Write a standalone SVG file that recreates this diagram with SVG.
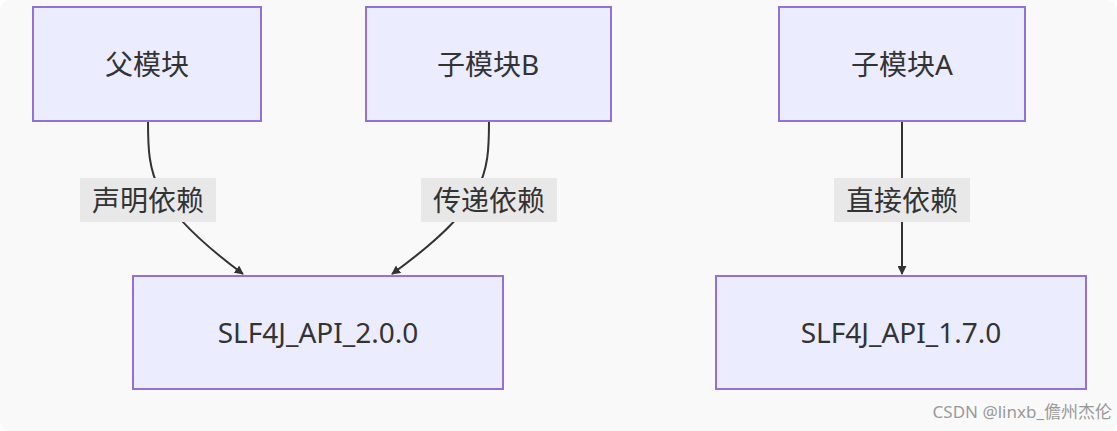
<svg xmlns="http://www.w3.org/2000/svg" width="1117" height="431" viewBox="0 0 1117 431">
<style>
.n rect{fill:#ececff;stroke:#9370db;stroke-width:2}
text{font-family:"Noto Sans","Noto Sans CJK SC",sans-serif;fill:#333;font-size:28px;text-anchor:middle;dominant-baseline:central}
.e path{fill:none;stroke:#333;stroke-width:2}
.l rect{fill:#e8e8e8}
</style>
<defs><marker id="a" viewBox="0 0 10 10" refX="9" refY="5" markerWidth="9" markerHeight="9" markerUnits="userSpaceOnUse" orient="auto"><path d="M0,0L10,5L0,10z" fill="#333"/></marker></defs>
<rect x="0" y="0" width="1117" height="431" rx="10" fill="#f9f9f9"/>
<g class="e">
<path d="M148,121 C148,175 150,205 243,274" marker-end="url(#a)"/>
<path d="M489,121 C489,175 487,205 392,274" marker-end="url(#a)"/>
<path d="M902,121 L902,274" marker-end="url(#a)"/>
<g class="l"><rect x="80" y="178" width="136" height="44"/><text x="148" y="200">声明依赖</text>
<rect x="421" y="178" width="136" height="44"/><text x="489" y="200">传递依赖</text>
<rect x="834" y="178" width="136" height="44"/><text x="902" y="200">直接依赖</text></g>
</g>
<g id="n1" class="n"><rect x="33" y="7" width="228" height="114"/><text x="147" y="64">父模块</text></g>
<g id="n2" class="n"><rect x="366" y="7" width="245" height="114"/><text x="488" y="64">子模块B</text></g>
<g id="n3" class="n"><rect x="779" y="7" width="246" height="114"/><text x="902" y="64">子模块A</text></g>
<g id="n4" class="n"><rect x="133" y="276" width="370" height="113"/><text x="318" y="332">SLF4J_API_2.0.0</text></g>
<g id="n5" class="n"><rect x="716" y="276" width="370" height="113"/><text x="901" y="332">SLF4J_API_1.7.0</text></g>
<text x="1112" y="411" style="font-size:17px;fill:#999;text-anchor:end">CSDN @linxb_儋州杰伦</text>
</svg>
